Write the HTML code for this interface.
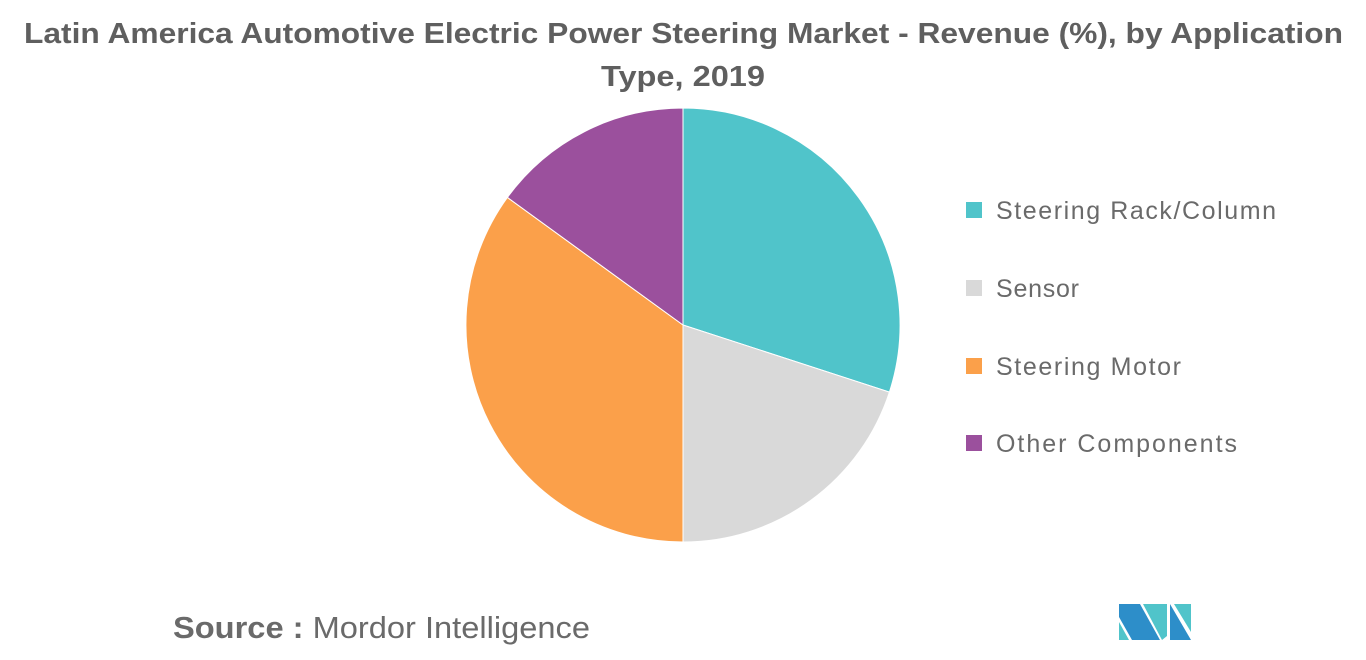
<!DOCTYPE html>
<html><head><meta charset="utf-8"><style>
body{margin:0;width:1366px;height:655px;background:#fff;font-family:"Liberation Sans",sans-serif;overflow:hidden}
</style></head><body>
<svg width="1366" height="655" xmlns="http://www.w3.org/2000/svg">
<text x="24" y="43" textLength="1319" lengthAdjust="spacingAndGlyphs" font-size="29" font-weight="bold" fill="#5f5f5f" font-family="Liberation Sans, sans-serif">Latin America Automotive Electric Power Steering Market - Revenue (%), by Application</text>
<text x="601" y="86" textLength="164" lengthAdjust="spacingAndGlyphs" font-size="29" font-weight="bold" fill="#5f5f5f" font-family="Liberation Sans, sans-serif">Type, 2019</text>
<g stroke="#fff" stroke-width="1">
<path d="M683,325 L683,108 A217,217 0 0 1 889.4,392.1 Z" fill="#50c4ca"/>
<path d="M683,325 L889.4,392.1 A217,217 0 0 1 683,542 Z" fill="#d9d9d9"/>
<path d="M683,325 L683,542 A217,217 0 0 1 507.4,197.4 Z" fill="#fba04a"/>
<path d="M683,325 L507.4,197.4 A217,217 0 0 1 683,108 Z" fill="#9b509d"/>
</g>
<g font-size="25" fill="#6a6a6a" font-family="Liberation Sans, sans-serif" lengthAdjust="spacingAndGlyphs">
<rect x="966" y="202" width="16" height="16" fill="#50c4ca"/><text x="996" y="219" textLength="280">Steering Rack/Column</text>
<rect x="966" y="280" width="16" height="16" fill="#d9d9d9"/><text x="996" y="297" textLength="83">Sensor</text>
<rect x="966" y="358" width="16" height="16" fill="#fba04a"/><text x="996" y="375" textLength="185">Steering Motor</text>
<rect x="966" y="435" width="16" height="16" fill="#9b509d"/><text x="996" y="452" textLength="241">Other Components</text>
</g>
<text x="173" y="638" textLength="417" lengthAdjust="spacingAndGlyphs" font-size="31" fill="#6a6a6a" font-family="Liberation Sans, sans-serif"><tspan font-weight="bold">Source :</tspan> Mordor Intelligence</text>
<g>
<polygon points="1119,604 1140,604 1160,640 1132,640 1119,617" fill="#2d8ec9"/>
<polygon points="1119,622 1129,640 1119,640" fill="#50c4ca"/>
<polygon points="1143,604 1167,604 1167,636 1162,640" fill="#50c4ca"/>
<polygon points="1170,604 1191,640 1170,640" fill="#2d8ec9"/>
<polygon points="1174,604 1191,604 1191,632" fill="#50c4ca"/>
</g>
</svg>
</body></html>
